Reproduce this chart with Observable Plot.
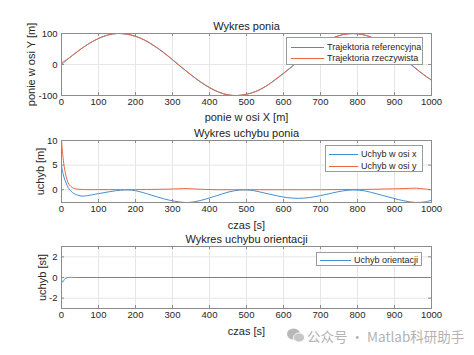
<!DOCTYPE html>
<html><head><meta charset="utf-8">
<script src="https://cdn.jsdelivr.net/npm/d3@7"></script>
<script src="https://cdn.jsdelivr.net/npm/@observablehq/plot@0.6"></script>
<style>
body{margin:0;background:#fff;}
#wrap{position:relative;width:474px;height:355px;overflow:hidden;background:#fff;font-family:"Liberation Sans",Arial,sans-serif;}
#wrap svg.pl{position:absolute;left:0;top:0;}
.legend{position:absolute;background:#fff;border:1px solid #9a9a9a;box-sizing:border-box;font-size:9px;color:#262626;}
.legend .row{position:absolute;left:0;height:12px;line-height:12px;white-space:nowrap;}
.legend svg{position:absolute;top:0;}
.legend span{position:absolute;top:0;}
#wm{position:absolute;left:287px;top:326px;height:20px;white-space:nowrap;font-family:"Noto Sans CJK SC",sans-serif;font-size:13.5px;color:#b3b3b3;line-height:20px;}
#wm svg{position:absolute;left:0;top:2px;}
#wm span{position:absolute;left:20px;top:0;}
</style>
</head><body>
<div id="wrap"></div>
<script>
// ---- data ----
const xTicks = [0,100,200,300,400,500,600,700,800,900,1000];
const yTicksPos = [-100,0,100];
const yTicksErr = [0,5,10];
const yTicksOri = [-2,0,2];

const posX = [0,25,50,75,100,125,150,175,200,225,250,275,300,325,350,375,400,425,450,475,500,525,550,575,600,625,650,675,700,725,750,775,800,825,850,875,900,925,950,975,1000];
const refY = [0,25,48,68,84,95,100,98,91,78,60,39,15,-10,-34,-56,-75,-89,-98,-100,-96,-87,-72,-52,-29,-5,20,43,64,81,93,99,99,93,81,63,43,19,-6,-30,-51];
const actY = [5,25,48,68,84,95,100,98,91,79,61,40,16,-9,-33,-55,-74,-89,-98,-100,-96,-87,-72,-51,-28,-4,21,44,65,81,93,99,99,93,81,64,44,20,-5,-29,-50];

const errT = [0,5,10,15,20,30,40,55,70,100,130,160,180,200,230,260,290,320,340,360,390,420,450,480,500,520,550,580,610,640,670,700,730,760,790,820,850,880,910,940,960,980,1000];
const errX = [4.8,3.0,1.8,0.9,0.2,-0.6,-1.0,-1.3,-1.2,-0.8,-0.4,-0.1,-0.05,-0.2,-0.8,-1.5,-2.1,-2.5,-2.6,-2.45,-1.9,-1.2,-0.5,-0.08,-0.05,-0.2,-0.7,-1.2,-1.6,-1.75,-1.6,-1.2,-0.7,-0.25,-0.05,-0.25,-0.8,-1.4,-2.0,-2.45,-2.6,-2.5,-2.15];
const errY = [10,6,3.5,2.0,1.1,0.4,0.15,0.05,0.02,0.02,0.02,0.02,0.02,0.02,0.05,0.08,0.12,0.2,0.22,0.15,0.05,0,0,0,0,0,0,0,0,0,0,0,0.02,0.04,0.05,0.06,0.1,0.15,0.2,0.28,0.3,0.15,0.02];

const oriT = [0,3,6,10,15,20,50,1000];
const oriE = [-0.2,-0.45,-0.3,-0.1,-0.03,0,0,0];

const BLUE = "#3f92d3", RED = "#e56a42";
const FONT = '"Liberation Sans",Arial,sans-serif';

function panel({top, bottom, yDomain, yTicks, lines, title, xLabel, yLabel, yDx, xDy}) {
  const H = bottom - top, W = 370;
  return Plot.plot({
    width: 474, height: 355,
    marginLeft: 61, marginRight: 43, marginTop: top, marginBottom: 355 - bottom,
    style: {background: "transparent", fontFamily: FONT, fontSize: "9.5px", color: "#262626", overflow: "visible"},
    x: {domain: [0, 1000]},
    y: {domain: yDomain},
    marks: [
      Plot.gridX(xTicks, {stroke: "#e6e6e6", strokeOpacity: 1}),
      Plot.gridY(yTicks, {stroke: "#e6e6e6", strokeOpacity: 1}),
      ...lines.map(l => Plot.line(l.x.map((v, i) => ({x: v, y: l.y[i]})), {x: "x", y: "y", stroke: l.color, strokeWidth: 1, curve: "catmull-rom", clip: true})),
      Plot.frame({stroke: "#8c8c8c"}),
      Plot.tickX(xTicks, {x: d => d, insetTop: H - 3, stroke: "#8c8c8c"}),
      Plot.tickX(xTicks, {x: d => d, insetBottom: H - 3, stroke: "#8c8c8c"}),
      Plot.tickY(yTicks, {y: d => d, insetRight: W - 3, stroke: "#8c8c8c"}),
      Plot.tickY(yTicks, {y: d => d, insetLeft: W - 3, stroke: "#8c8c8c"}),
      Plot.axisX(xTicks, {tickSize: 0, tickPadding: 3, label: null, tickFormat: d => String(d), fill: "#262626"}),
      Plot.axisY(yTicks, {tickSize: 0, tickPadding: 4, label: null, tickFormat: d => String(d), fill: "#262626"}),
      Plot.text([title], {text: d => d, frameAnchor: "top", dy: -7, lineAnchor: "middle", textAnchor: "middle", fontSize: 11, fill: "#1a1a1a"}),
      Plot.text([xLabel], {text: d => d, frameAnchor: "bottom", dy: xDy, lineAnchor: "middle", textAnchor: "middle", fontSize: 11, fill: "#262626"}),
      Plot.text([yLabel], {text: d => d, frameAnchor: "left", rotate: -90, dx: yDx, lineAnchor: "middle", textAnchor: "middle", fontSize: 11, fill: "#262626"})
    ]
  });
}

const wrap = document.getElementById("wrap");
const panels = [
  panel({top: 33, bottom: 95, yDomain: [-100, 100], yTicks: yTicksPos,
    lines: [{x: posX, y: refY, color: BLUE}, {x: posX, y: actY, color: RED}],
    title: "Wykres ponia", xLabel: "ponie w osi X [m]", yLabel: "ponie w osi Y [m]", yDx: -30, xDy: 22}),
  panel({top: 140, bottom: 202, yDomain: [-2.6, 10], yTicks: yTicksErr,
    lines: [{x: errT, y: errX, color: BLUE}, {x: errT, y: errY, color: RED}],
    title: "Wykres uchybu ponia", xLabel: "czas [s]", yLabel: "uchyb [m]", yDx: -21, xDy: 23}),
  panel({top: 246, bottom: 308, yDomain: [-3, 3], yTicks: yTicksOri,
    lines: [{x: oriT, y: oriE, color: BLUE}],
    title: "Wykres uchybu orientacji", xLabel: "czas [s]", yLabel: "uchyb [st]", yDx: -19, xDy: 23})
];
panels.forEach(p => { p.classList.add("pl"); wrap.appendChild(p); });

// legends
const legends = [
  {left: 286, top: 37, width: 137, height: 28, swL: 4, swW: 33, txL: 40, rows: [["Trajektoria referencyjna", BLUE], ["Trajektoria rzeczywista", RED]], rowTop: 2.5, rowH: 11},
  {left: 325, top: 145, width: 98, height: 27, swL: 3, swW: 29, txL: 35, rows: [["Uchyb w osi x", BLUE], ["Uchyb w osi y", RED]], rowTop: 2, rowH: 12},
  {left: 316, top: 252, width: 106, height: 14, swL: 3, swW: 31, txL: 37, rows: [["Uchyb orientacji", BLUE]], rowTop: 0.5, rowH: 12}
];
legends.forEach(L => {
  const d = document.createElement("div");
  d.className = "legend";
  Object.assign(d.style, {left: L.left + "px", top: L.top + "px", width: L.width + "px", height: L.height + "px"});
  L.rows.forEach(([label, color], i) => {
    const r = document.createElement("div");
    r.className = "row";
    r.style.top = (L.rowTop + i * L.rowH) + "px";
    r.style.width = L.width + "px";
    r.innerHTML = `<svg width="${L.swW}" height="12" style="left:${L.swL}px"><line x1="0" x2="${L.swW}" y1="6.5" y2="6.5" stroke="${color}" stroke-width="1"/></svg><span style="left:${L.txL}px">${label}</span>`;
    d.appendChild(r);
  });
  wrap.appendChild(d);
});

// watermark
const wm = document.createElement("div");
wm.id = "wm";
wm.innerHTML = `<svg width="18" height="15"><ellipse cx="6.5" cy="6" rx="6.5" ry="5.5" fill="#b8b8b8"/><ellipse cx="12" cy="9.5" rx="5.5" ry="4.6" fill="#c6c6c6" stroke="#fff" stroke-width="0.8"/></svg><span>公众号 · Matlab科研助手</span>`;
wrap.appendChild(wm);
</script>
</body></html>
